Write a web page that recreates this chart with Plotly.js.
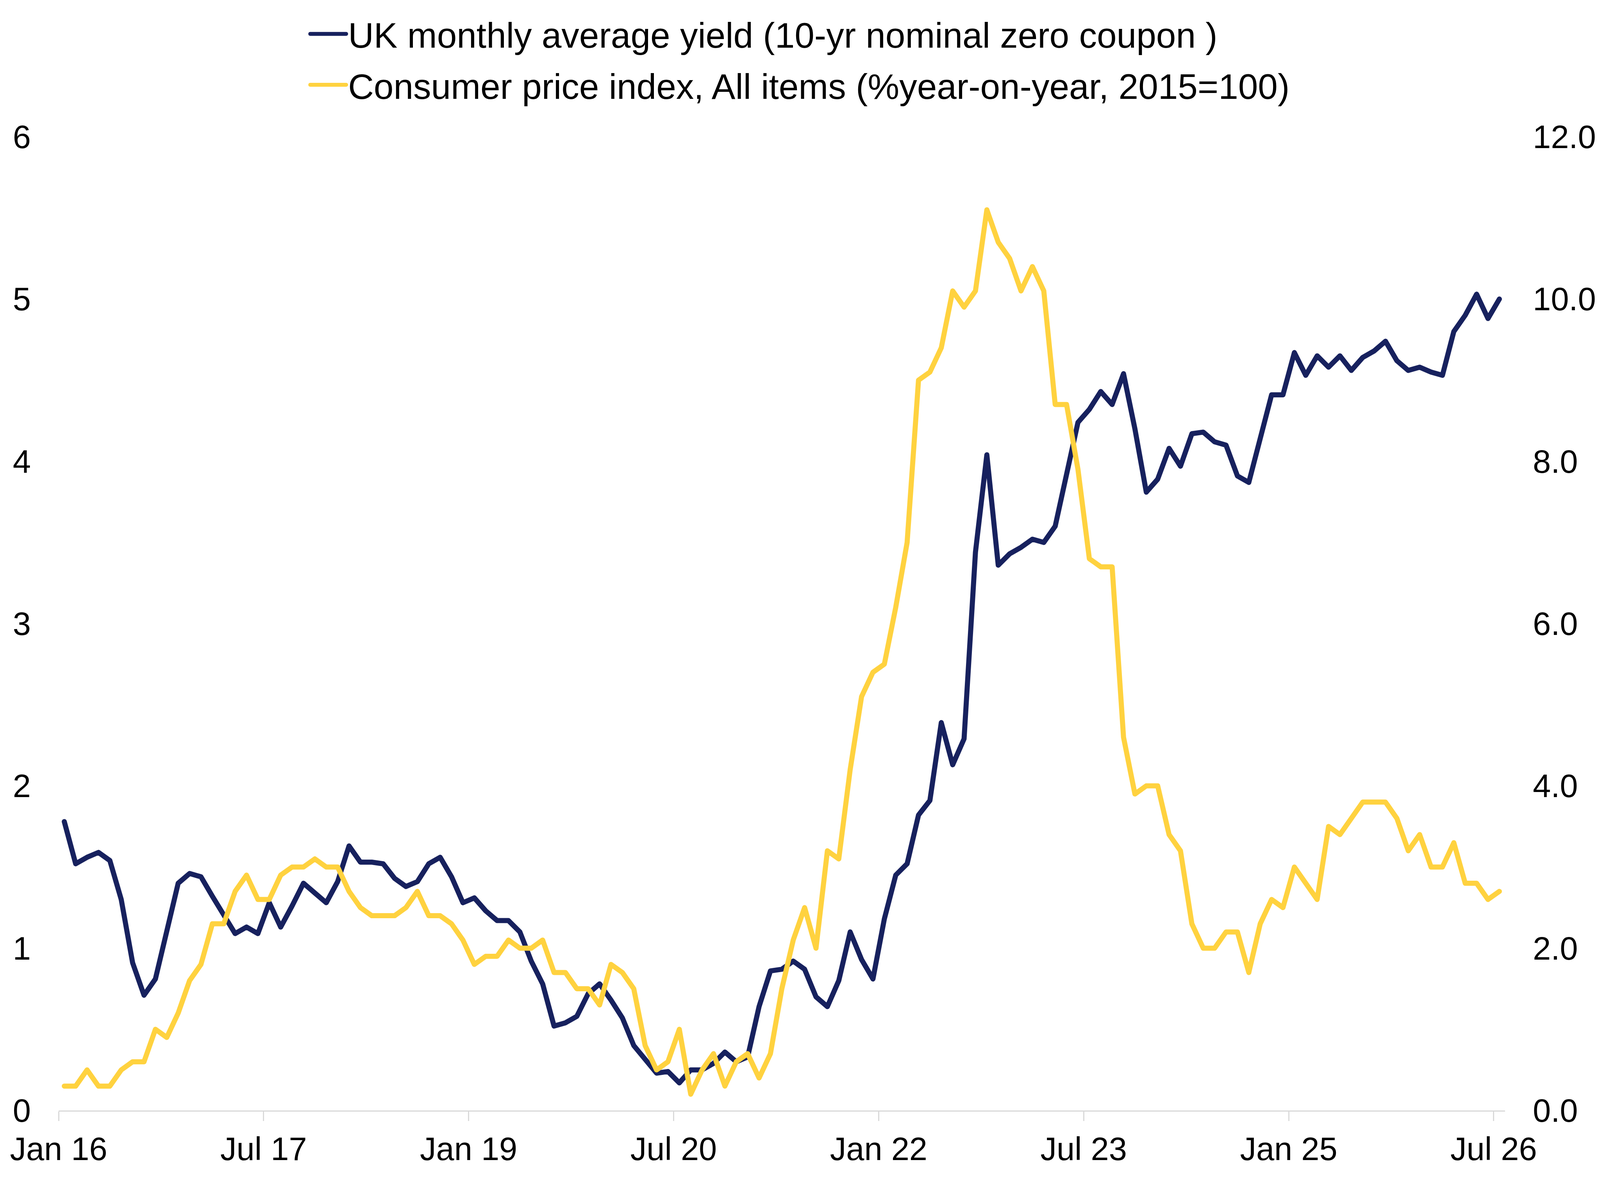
<!DOCTYPE html>
<html>
<head>
<meta charset="utf-8">
<script src="https://cdn.plot.ly/plotly-3.0.1.min.js"></script>
<style>
  html, body { margin: 0; padding: 0; background: #fff; }
  #chart { width: 4120px; height: 3020px; }
  /* Excel-style rounded joins on the series lines */
  .scatterlayer path.js-line, .legendlines path { stroke-linejoin: round; stroke-linecap: round; }
</style>
</head>
<body>
<div id="chart"></div>
<script>
// Monthly observations, Jan 2016 .. Jul 2026 (127 months)
const START_YEAR = 2016;
const N_MONTHS = 127;
const MONTH_NAMES = ["Jan", "Feb", "Mar", "Apr", "May", "Jun", "Jul", "Aug", "Sep", "Oct", "Nov", "Dec"];
const months = [];
for (let i = 0; i < N_MONTHS; i++) {
  const yy = String((START_YEAR + Math.floor(i / 12)) % 100).padStart(2, "0");
  months.push(MONTH_NAMES[i % 12] + " " + yy);
}

// UK monthly average yield, 10-yr nominal zero coupon (%), left axis
const gilt10y = [
  1.78, 1.52, 1.56, 1.59, 1.54, 1.30, 0.91, 0.71, 0.81, 1.10, 1.40, 1.46, // 2016
  1.44, 1.32, 1.20, 1.09, 1.13, 1.09, 1.28, 1.13, 1.26, 1.40, 1.34, 1.28, // 2017
  1.41, 1.63, 1.53, 1.53, 1.52, 1.43, 1.38, 1.41, 1.52, 1.56, 1.44, 1.28, // 2018
  1.31, 1.23, 1.17, 1.17, 1.10, 0.92, 0.78, 0.52, 0.54, 0.58, 0.72, 0.78, // 2019
  0.68, 0.57, 0.40, 0.31, 0.23, 0.24, 0.17, 0.25, 0.25, 0.29, 0.36, 0.30, // 2020
  0.33, 0.64, 0.86, 0.87, 0.92, 0.87, 0.70, 0.64, 0.80, 1.10, 0.93, 0.81, // 2021
  1.18, 1.45, 1.52, 1.82, 1.91, 2.39, 2.13, 2.29, 3.44, 4.04, 3.36, 3.43, // 2022
  3.47, 3.52, 3.50, 3.60, 3.92, 4.24, 4.32, 4.43, 4.35, 4.54, 4.20, 3.81, // 2023
  3.89, 4.08, 3.97, 4.17, 4.18, 4.12, 4.10, 3.91, 3.87, 4.15, 4.41, 4.41, // 2024
  4.67, 4.53, 4.65, 4.58, 4.65, 4.56, 4.64, 4.68, 4.74, 4.62, 4.56, 4.58, // 2025
  4.55, 4.53, 4.80, 4.90, 5.03, 4.88, 5.00,                               // 2026
];

// CPI, all items (% year-on-year), right axis
const cpiYoY = [
  0.3, 0.3, 0.5, 0.3, 0.3, 0.5, 0.6, 0.6, 1.0, 0.9, 1.2, 1.6,
  1.8, 2.3, 2.3, 2.7, 2.9, 2.6, 2.6, 2.9, 3.0, 3.0, 3.1, 3.0,
  3.0, 2.7, 2.5, 2.4, 2.4, 2.4, 2.5, 2.7, 2.4, 2.4, 2.3, 2.1,
  1.8, 1.9, 1.9, 2.1, 2.0, 2.0, 2.1, 1.7, 1.7, 1.5, 1.5, 1.3,
  1.8, 1.7, 1.5, 0.8, 0.5, 0.6, 1.0, 0.2, 0.5, 0.7, 0.3, 0.6,
  0.7, 0.4, 0.7, 1.5, 2.1, 2.5, 2.0, 3.2, 3.1, 4.2, 5.1, 5.4,
  5.5, 6.2, 7.0, 9.0, 9.1, 9.4, 10.1, 9.9, 10.1, 11.1, 10.7, 10.5,
  10.1, 10.4, 10.1, 8.7, 8.7, 7.9, 6.8, 6.7, 6.7, 4.6, 3.9, 4.0,
  4.0, 3.4, 3.2, 2.3, 2.0, 2.0, 2.2, 2.2, 1.7, 2.3, 2.6, 2.5,
  3.0, 2.8, 2.6, 3.5, 3.4, 3.6, 3.8, 3.8, 3.8, 3.6, 3.2, 3.4,
  3.0, 3.0, 3.3, 2.8, 2.8, 2.6, 2.7,
];

const SERIES_NAMES = [
  "UK monthly average yield (10-yr nominal zero coupon )",
  "Consumer price index, All items (%year-on-year, 2015=100)",
];
const LABEL_EVERY = 18; // a label every 18 months: Jan 16, Jul 17, ...

const NAVY = "#17215E";
const GOLD = "#FFD23F";
const AXIS_GREY = "#D9D9D9";
const FONT = "Liberation Sans, Arial, sans-serif";

const W = 4120, H = 3020;
const margin = { l: 150, r: 267, t: 350, b: 178, pad: 0 };
const plotW = W - margin.l - margin.r;
const halfCat = plotW / N_MONTHS / 2;

const idx = months.map((_, i) => i);

// tick marks sit on category boundaries, labels in the middle of the category
const tickIdx = idx.filter((i) => i % LABEL_EVERY === 0);

const traces = [
  {
    x: idx,
    y: gilt10y,
    type: "scatter",
    mode: "lines",
    name: SERIES_NAMES[0],
    legendgroup: "gilt",
    line: { color: NAVY, width: 13 },
    customdata: months,
    hovertemplate: "%{customdata}: %{y:.2f}<extra></extra>",
  },
  {
    x: idx,
    y: cpiYoY,
    type: "scatter",
    mode: "lines",
    name: SERIES_NAMES[1],
    legendgroup: "cpi",
    yaxis: "y2",
    line: { color: GOLD, width: 13 },
    customdata: months,
    hovertemplate: "%{customdata}: %{y:.1f}%<extra></extra>",
  },
];

const tickFont = { family: FONT, size: 83, color: "#000" };

const layout = {
  width: W,
  height: H,
  margin,
  paper_bgcolor: "#fff",
  plot_bgcolor: "#fff",
  font: { family: FONT, color: "#000" },
  showlegend: true,
  legend: {
    x: 0.1726,
    xanchor: "left",
    y: 1.132,
    yanchor: "top",
    orientation: "v",
    font: { family: FONT, size: 91, color: "#000" },
    bgcolor: "rgba(0,0,0,0)",
    itemwidth: 92,
    tracegroupgap: 9,
  },
  xaxis: {
    range: [-0.5, N_MONTHS - 0.5],
    tickmode: "array",
    tickvals: tickIdx.map((i) => i - 0.5),
    ticktext: tickIdx.map((i) => months[i]),
    ticklabelshift: halfCat,
    ticks: "outside",
    ticklen: 24,
    tickwidth: 3,
    tickcolor: AXIS_GREY,
    showline: true,
    linecolor: AXIS_GREY,
    linewidth: 3,
    showgrid: false,
    zeroline: false,
    tickfont: tickFont,
    ticklabelstandoff: 0,
  },
  yaxis: {
    range: [0, 6],
    tickmode: "linear",
    tick0: 0,
    dtick: 1,
    ticks: "",
    showline: false,
    showgrid: false,
    zeroline: false,
    tickfont: tickFont,
    ticklabelstandoff: 70,
  },
  yaxis2: {
    range: [0, 12],
    overlaying: "y",
    side: "right",
    tickmode: "linear",
    tick0: 0,
    dtick: 2,
    tickformat: ".1f",
    ticks: "",
    showline: false,
    showgrid: false,
    zeroline: false,
    tickfont: tickFont,
    ticklabelstandoff: 70,
  },
};

Plotly.newPlot("chart", traces, layout, { staticPlot: true, displayModeBar: false });
</script>
</body>
</html>
